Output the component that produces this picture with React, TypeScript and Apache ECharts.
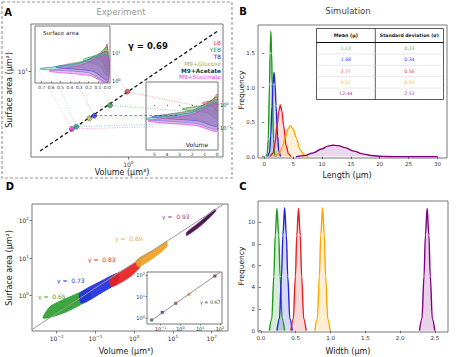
import React, { useEffect, useRef } from 'react';
import * as echarts from 'echarts';

const FONT = 'DejaVu Sans';

// ---------- Panel A (Experiment) ----------
const conditions = ['LB', 'YEB', 'TB', 'M9+Glucose', 'M9+Acetate', 'M9+Succinate'];
const conditionColors = ['#e8413c', '#3a9a3a', '#2b2be0', '#b8b860', '#2aa5a5', '#e23ee2'];
const legendColors = ['#e8413c', '#3a9a3a', '#2b2be0', '#a8a850', '#173f3f', '#e23ee2'];
const meanVolume = [0.985, 0.755, 0.593, 0.55, 0.45, 0.42];
const meanSurface = [7.36, 5.97, 5.09, 4.89, 4.3, 4.15];
const fitLineA = [[0.258, 2.96], [3.98, 18.8]];
const gammaA = 0.69;
const rightTargets = [[2.86, 5.91], [2.67, 5.41], [2.18, 5.09], [2.21, 4.89], [2.45, 4.53], [1.46, 4.3]];
const leftTargets = [[0.755, 10.8], [0.6, 10], [0.409, 10], [0.501, 10], [0.316, 10], [0.251, 10.3]];
// inset histograms: [frequency, log10(surface area)]
const saProfiles = [
  [[0, 1.32], [0.04, 1.03], [0.12, 0.86], [0.05, 0.68], [0, 0.33]],
  [[0, 1.21], [0.1, 0.95], [0.26, 0.75], [0.08, 0.55], [0, 0.19]],
  [[0, 1.04], [0.25, 0.7], [0.55, 0.505], [0.15, 0.35], [0, 0.05]],
  [[0, 1.1], [0.2, 0.75], [0.45, 0.58], [0.12, 0.42], [0, 0.05]],
  [[0, 0.93], [0.35, 0.6], [0.72, 0.44], [0.2, 0.3], [0, -0.03]],
  [[0, 0.89], [0.3, 0.55], [0.62, 0.36], [0.18, 0.2], [0, -0.06]],
];
// [frequency, log10(volume)]
const volProfiles = [
  [[0, 0.46], [0.4, 0.2], [1.2, 0.07], [0.3, -0.1], [0, -0.31]],
  [[0, 0.33], [1.0, 0.0], [2.8, -0.19], [0.8, -0.35], [0, -0.6]],
  [[0, 0.2], [2.0, -0.25], [5.2, -0.53], [1.5, -0.7], [0, -0.91]],
  [[0, 0.2], [1.8, -0.22], [4.5, -0.49], [1.3, -0.65], [0, -0.87]],
  [[0, 0.07], [2.2, -0.35], [5.8, -0.61], [1.7, -0.8], [0, -1.04]],
  [[0, 0.03], [2.0, -0.42], [5.5, -0.7], [1.6, -0.9], [0, -1.13]],
];
const saInsetTicks = [0, 0.1, 0.2, 0.3, 0.4, 0.5, 0.6, 0.7];
const volInsetTicks = [0, 1, 2, 3, 4, 5];

// ---------- Panel B (length) ----------
const simColors = ['#1f9a1f', '#2424e0', '#e52020', '#ffa500', '#800080'];
const tableColors = ['#4caf50', '#3b3be8', '#e84848', '#f7b84a', '#9b3fa6'];
const means = [1.13, 1.68, 2.77, 4.57, 12.44];
const sds = [0.23, 0.34, 0.56, 0.93, 2.53];
const lengthGreen = [[0.3, 0], [0.5, 0.04], [0.67, 0.25], [0.9, 1.05], [1.0, 1.5], [1.13, 1.82], [1.26, 1.5], [1.36, 1.05], [1.59, 0.25], [1.8, 0.03], [2.0, 0]];
const lengthBlue = [[0.6, 0], [0.9, 0.06], [1.1, 0.3], [1.34, 0.74], [1.5, 1.05], [1.68, 1.22], [1.86, 1.05], [2.02, 0.74], [2.3, 0.3], [2.5, 0.08], [2.8, 0]];
const lengthRed = [[1.0, 0], [1.5, 0.05], [1.8, 0.17], [2.21, 0.455], [2.5, 0.66], [2.77, 0.75], [3.05, 0.66], [3.33, 0.455], [3.8, 0.15], [4.2, 0.04], [4.6, 0]];
const lengthOrange = [[1.8, 0], [2.6, 0.05], [3.2, 0.16], [3.64, 0.28], [4.1, 0.4], [4.5, 0.45], [5.0, 0.4], [5.5, 0.28], [6.2, 0.1], [6.9, 0.025], [7.6, 0]];
const lengthPurple = [[5.5, 0], [7, 0.015], [8.5, 0.055], [9.9, 0.11], [11, 0.152], [11.8, 0.165], [12.8, 0.16], [14, 0.13], [15.5, 0.08], [17, 0.04], [18.5, 0.016], [20.5, 0.003], [22.5, 0], [30, 0]];
const lengthCurves = [lengthGreen, lengthBlue, lengthRed, lengthOrange, lengthPurple];
const lengthTicks = [0, 5, 10, 15, 20, 25, 30];
const lengthFreqTicks = [0, 0.5, 1, 1.5];

// ---------- Panel C (width) ----------
const widthGreen = [[0.12, 0], [0.155, 1.1], [0.185, 5], [0.205, 8.8], [0.23, 11.3], [0.255, 8.8], [0.275, 5], [0.305, 1.1], [0.34, 0]];
const widthBlue = [[0.23, 0], [0.265, 1.1], [0.295, 5], [0.315, 8.8], [0.34, 11.35], [0.365, 8.8], [0.385, 5], [0.415, 1.1], [0.45, 0]];
const widthRed = [[0.43, 0], [0.465, 1.1], [0.495, 5], [0.515, 8.8], [0.54, 11.3], [0.565, 8.8], [0.585, 5], [0.615, 1.1], [0.65, 0]];
const widthOrange = [[0.775, 0], [0.81, 1.1], [0.84, 5], [0.86, 8.8], [0.885, 11.35], [0.91, 8.8], [0.93, 5], [0.96, 1.1], [0.995, 0]];
const widthPurple = [[2.28, 0], [2.315, 1.1], [2.345, 5], [2.365, 8.8], [2.39, 11.3], [2.415, 8.8], [2.435, 5], [2.465, 1.1], [2.5, 0]];
const widthCurves = [widthGreen, widthBlue, widthRed, widthOrange, widthPurple];
const widthTicks = [0, 0.5, 1, 1.5, 2, 2.5];
const widthFreqTicks = [0, 2, 4, 6, 8, 10];

// ---------- Panel D (surface area vs volume) ----------
const bandColors = ['#2e9e2e', '#1f2ee0', '#e82020', '#f0a020', '#3a0a3a'];
const bandStroke = ['#2e9e2e', '#1f2ee0', '#e82020', '#f0a020', '#9030a0'];
const gammaColors = ['#3aa03a', '#3030e0', '#e03030', '#f0b030', '#9a3aa0'];
const gammaD = [0.65, 0.73, 0.83, 0.89, 0.93];
const bands = [
  [[0.00672, 0.509], [0.0181, 0.853], [0.0655, 1.42], [0.0723, 0.853], [0.0181, 0.374], [0.00451, 0.25]],
  [[0.0399, 1.16], [0.131, 2.36], [0.389, 3.96], [0.389, 2.36], [0.16, 1.28], [0.0442, 0.627]],
  [[0.238, 2.91], [0.64, 5.38], [1.41, 8.42], [1.41, 5.93], [0.78, 3.21], [0.262, 1.74]],
  [[1.16, 8.95], [3.11, 16.5], [6.9, 27.5], [6.9, 20.3], [3.44, 11.0], [1.28, 5.93]],
  [[22.6, 49.1], [49.9, 94.0], [122, 205], [129, 181], [55.2, 76.8], [22.6, 39.8]],
];
const fitLineD = [[0.0024, 0.129], [200, 273]];
const insetVolume = [0.035, 0.12, 0.573, 2.69, 55.2];
const insetSurface = [0.834, 1.89, 4.93, 12.8, 90];
const insetColors = ['#1f5f1f', '#2020b0', '#b03020', '#d8a040', '#4a104a'];
const insetFit = [[0.0313, 0.75], [100, 133]];
const gammaInset = 0.67;

// ---------- helpers ----------
const rgba = (hex: string, a: number) => {
  const n = parseInt(hex.slice(1), 16);
  return `rgba(${(n >> 16) & 255},${(n >> 8) & 255},${n & 255},${a})`;
};
const supText = (e: number) => `{b|10}{s|${e < 0 ? '\u2212' + -e : e}}`;
const logFmt = (v: number) => supText(Math.round(Math.log10(v)));
const richMain = {
  b: { fontSize: 6, fontFamily: FONT, color: '#333', lineHeight: 8 },
  s: { fontSize: 4.2, fontFamily: FONT, color: '#333', lineHeight: 4, verticalAlign: 'top' },
};
const richSmall = {
  b: { fontSize: 5, fontFamily: FONT, color: '#333', lineHeight: 6 },
  s: { fontSize: 3.6, fontFamily: FONT, color: '#333', lineHeight: 3, verticalAlign: 'top' },
};
const tickStyle = { length: 2.5, lineStyle: { color: '#444', width: 0.7 } };
const labelBase = { fontSize: 5.5, fontFamily: FONT, color: '#333', margin: 3 };
const gridStyle = { show: true, borderColor: '#555', borderWidth: 0.8 };

function logAxis(gridIndex: number, min: number, max: number, small = false) {
  return {
    type: 'log', logBase: 10, gridIndex, min, max,
    axisLine: { show: false },
    axisTick: small ? { length: 1.5, lineStyle: { color: '#444', width: 0.6 } } : tickStyle,
    axisLabel: { formatter: logFmt, rich: small ? richSmall : richMain, showMinLabel: false, showMaxLabel: false, margin: small ? 2 : 3 },
    splitLine: { show: false },
  };
}
function valAxis(gridIndex: number, min: number, max: number, ticks: number[], fmt: (v: number) => string, extra: any = {}) {
  return {
    type: 'value', gridIndex, min, max,
    axisLine: { show: false },
    axisTick: { ...tickStyle, customValues: ticks, ...(extra.tick || {}) },
    axisLabel: { ...labelBase, customValues: ticks, formatter: fmt, ...(extra.label || {}) },
    splitLine: { show: false },
    ...(extra.axis || {}),
  };
}
function polySeries(polys: number[][][], fills: string[], strokes: string[], xi: number, alpha: number, lw: number) {
  return {
    type: 'custom', xAxisIndex: xi, yAxisIndex: xi, clip: true, silent: true,
    data: polys.map((p) => p[0]),
    renderItem: (params: any, api: any) => {
      const i = params.dataIndex;
      const pts = polys[i].map((p) => api.coord(p));
      return { type: 'polygon', shape: { points: pts, smooth: 0.25 }, style: { fill: rgba(fills[i], alpha), stroke: strokes[i], lineWidth: lw } };
    },
  };
}
const txt = (x: number, y: number, text: string, o: any = {}) => ({
  type: 'text', x, y, z: 100, rotation: o.rotation || 0,
  style: {
    text, fontSize: o.size || 8, fontFamily: FONT, fill: o.color || '#222',
    fontWeight: o.weight || 'normal', align: o.align || 'center', verticalAlign: 'middle',
  },
});

export default function App() {
  const ref = useRef<HTMLDivElement>(null);
  useEffect(() => {
    document.body.style.margin = '0';
    const chart = echarts.init(ref.current!, undefined, { renderer: 'svg' });

    const series: any[] = [];
    // Panel A
    series.push({
      type: 'line', xAxisIndex: 0, yAxisIndex: 0, data: fitLineA, symbol: 'none',
      lineStyle: { color: '#111', width: 1.3, type: [3.5, 2.5] }, z: 3,
    });
    conditions.forEach((c, i) => {
      series.push({
        type: 'line', xAxisIndex: 0, yAxisIndex: 0, symbol: 'none', silent: true,
        data: [[meanVolume[i], meanSurface[i]], rightTargets[i]],
        lineStyle: { color: conditionColors[i], width: i === 2 ? 0.9 : 0.7, opacity: 0.75, type: i === 2 ? [3, 2] : [1, 1.5] },
      });
      series.push({
        type: 'line', xAxisIndex: 0, yAxisIndex: 0, symbol: 'none', silent: true,
        data: [[meanVolume[i], meanSurface[i]], leftTargets[i]],
        lineStyle: { color: conditionColors[i], width: 0.6, opacity: 0.55, type: [1, 1.5] },
      });
    });
    series.push(polySeries(saProfiles, conditionColors, conditionColors, 1, 0.35, 0.7));
    series.push(polySeries(volProfiles, conditionColors, conditionColors, 2, 0.35, 0.7));
    series.push({
      type: 'scatter', xAxisIndex: 0, yAxisIndex: 0, symbolSize: 5, z: 5,
      data: conditions.map((c, i) => ({ name: c, value: [meanVolume[i], meanSurface[i]], itemStyle: { color: conditionColors[i], borderColor: '#222', borderWidth: 0.5 } })),
    });
    // Panel B
    lengthCurves.forEach((d, i) => series.push({
      type: 'line', xAxisIndex: 3, yAxisIndex: 3, data: d, symbol: 'none', smooth: 0.35, smoothMonotone: 'x',
      lineStyle: { color: simColors[i], width: 1.4 }, areaStyle: { color: rgba(simColors[i], 0.22) },
    }));
    // Panel C
    widthCurves.forEach((d, i) => series.push({
      type: 'line', xAxisIndex: 4, yAxisIndex: 4, data: d, symbol: 'none', smooth: 0.35, smoothMonotone: 'x',
      lineStyle: { color: simColors[i], width: 1.4 }, areaStyle: { color: rgba(simColors[i], 0.25) },
    }));
    // Panel D
    series.push({ type: 'line', xAxisIndex: 5, yAxisIndex: 5, data: fitLineD, symbol: 'none', lineStyle: { color: '#9a9a9a', width: 1 } });
    series.push(polySeries(bands, bandColors, bandStroke, 5, 0.92, 0.8));
    series.push({ type: 'line', xAxisIndex: 6, yAxisIndex: 6, data: insetFit, symbol: 'none', lineStyle: { color: '#777', width: 0.8 } });
    series.push({
      type: 'scatter', xAxisIndex: 6, yAxisIndex: 6, symbolSize: 3, symbol: 'rect',
      data: insetVolume.map((v, i) => ({ value: [v, insetSurface[i]], itemStyle: { color: insetColors[i] } })),
    });

    // graphics
    const g: any[] = [];
    g.push({ type: 'rect', z: 90, shape: { x: 2, y: 2, width: 230, height: 176 }, style: { fill: 'none', stroke: '#9a9a9a', lineWidth: 1.2, lineDash: [3, 2] } });
    g.push(txt(8, 12, 'A', { size: 10, weight: 'bold', color: '#000' }));
    g.push(txt(243, 11, 'B', { size: 10, weight: 'bold', color: '#000' }));
    g.push(txt(243, 186, 'C', { size: 10, weight: 'bold', color: '#000' }));
    g.push(txt(10, 186, 'D', { size: 10, weight: 'bold', color: '#000' }));
    g.push(txt(121, 12, 'Experiment', { size: 8.5, color: '#999' }));
    g.push(txt(348, 11, 'Simulation', { size: 8.5, color: '#444' }));
    g.push(txt(9, 90, 'Surface area (μm²)', { size: 8, rotation: Math.PI / 2 }));
    g.push(txt(122, 172, 'Volume (μm³)', { size: 8 }));
    g.push(txt(241, 90, 'Frequency', { size: 7.5, rotation: Math.PI / 2 }));
    g.push(txt(347, 175, 'Length (μm)', { size: 8 }));
    g.push(txt(241, 266, 'Frequency', { size: 7.5, rotation: Math.PI / 2 }));
    g.push(txt(348, 351, 'Width (μm)', { size: 8 }));
    g.push(txt(9, 268, 'Surface area (μm²)', { size: 8, rotation: Math.PI / 2 }));
    g.push(txt(126, 351, 'Volume (μm³)', { size: 8 }));
    g.push(txt(148, 46, `γ = ${gammaA.toFixed(2)}`, { size: 8.5, weight: 'bold', color: '#111' }));
    const legY = [43, 50, 57, 63.8, 70.5, 77.3];
    conditions.forEach((c, i) => g.push(txt(221, legY[i], c, { size: 5.8, align: 'right', color: legendColors[i], weight: i === 4 ? 'bold' : 'normal' })));
    g.push(txt(43, 33, 'Surface area', { size: 5.6, align: 'left', color: '#222' }));
    g.push(txt(197, 144, 'Volume', { size: 6, color: '#222' }));
    // table
    const tx0 = 316.5, tx1 = 443.5, tmid = 375.3, ty0 = 28.5, ty1 = 99.5, thead = 42.5, rowH = 11.4;
    g.push({ type: 'rect', z: 95, shape: { x: tx0, y: ty0, width: tx1 - tx0, height: ty1 - ty0 }, style: { fill: '#fff', stroke: '#333', lineWidth: 0.8 } });
    g.push({ type: 'line', z: 96, shape: { x1: tmid, y1: ty0, x2: tmid, y2: ty1 }, style: { stroke: '#333', lineWidth: 0.8 } });
    g.push({ type: 'line', z: 96, shape: { x1: tx0, y1: thead, x2: tx1, y2: thead }, style: { stroke: '#111', lineWidth: 1.1 } });
    for (let k = 1; k < means.length; k++) {
      g.push({ type: 'line', z: 96, shape: { x1: tx0, y1: thead + rowH * k, x2: tx1, y2: thead + rowH * k }, style: { stroke: '#d0d0d0', lineWidth: 0.5 } });
    }
    g.push(txt((tx0 + tmid) / 2, 35.5, 'Mean (μ)', { size: 4.8, weight: 'bold', color: '#111' }));
    g.push(txt((tmid + tx1) / 2, 35.5, 'Standard deviation (σ)', { size: 4.6, weight: 'bold', color: '#111' }));
    means.forEach((m, k) => {
      const y = thead + rowH * (k + 0.5);
      g.push(txt((tx0 + tmid) / 2, y, m.toFixed(2), { size: 4.6, color: tableColors[k] }));
      g.push(txt((tmid + tx1) / 2, y, sds[k].toFixed(2), { size: 4.6, color: tableColors[k] }));
    });
    // D gamma labels
    const gx = [38, 57, 88, 115, 162];
    const gy = [296, 280, 259, 238, 216];
    gammaD.forEach((v, i) => g.push(txt(gx[i], gy[i], `γ =  ${v.toFixed(2)}`, { size: 6, align: 'left', color: gammaColors[i] })));
    g.push(txt(200, 302.7, `γ = ${gammaInset.toFixed(2)}`, { size: 4.8, align: 'left', color: '#333' }));

    const option: any = {
      animation: false,
      grid: [
        { left: 31, top: 24, width: 192, height: 133, ...gridStyle },
        { left: 35, top: 26, width: 75, height: 57, ...gridStyle, backgroundColor: '#fff' },
        { left: 146, top: 82, width: 72, height: 68, ...gridStyle, backgroundColor: '#fff' },
        { left: 258, top: 25, width: 189, height: 133, ...gridStyle },
        { left: 258, top: 201, width: 190, height: 131, ...gridStyle },
        { left: 32, top: 204, width: 196, height: 127, ...gridStyle },
        { left: 147, top: 272, width: 75, height: 52, ...gridStyle, backgroundColor: '#fff' },
      ],
      xAxis: [
        logAxis(0, 0.2244, 4.276),
        valAxis(1, -0.029, 0.772, saInsetTicks, (v) => v.toFixed(1), { axis: { inverse: true }, label: { fontSize: 4.3, margin: 2 }, tick: { length: 1.5 } }),
        valAxis(2, -0.056, 5.66, volInsetTicks, (v) => String(v), { axis: { inverse: true }, label: { fontSize: 4.5, margin: 2 }, tick: { length: 1.5 } }),
        valAxis(3, -1.1, 31.66, lengthTicks, (v) => String(v)),
        valAxis(4, -0.043, 2.69, widthTicks, (v) => v.toFixed(1)),
        logAxis(5, 0.00231, 263.6),
        logAxis(6, 0.0203, 126.3, true),
      ],
      yAxis: [
        logAxis(0, 2.7, 20.8),
        valAxis(1, -0.06, 1.954, [0, 1], (v) => supText(v), { axis: { position: 'right' }, label: { rich: richSmall, margin: 2 }, tick: { length: 1.5 } }),
        valAxis(2, -1.944, 0.974, [-1, 0], (v) => supText(v), { axis: { position: 'right' }, label: { rich: richSmall, margin: 2 }, tick: { length: 1.5 } }),
        valAxis(3, -0.02, 1.91, lengthFreqTicks, (v) => v.toFixed(1)),
        valAxis(4, -0.12, 11.96, widthFreqTicks, (v) => String(v)),
        logAxis(5, 0.1145, 278.6),
        logAxis(6, 0.546, 137.7, true),
      ],
      series,
      graphic: g,
    };
    chart.setOption(option);
    return () => chart.dispose();
  }, []);
  return <div ref={ref} style={{ width: 474, height: 357 }} />;
}
